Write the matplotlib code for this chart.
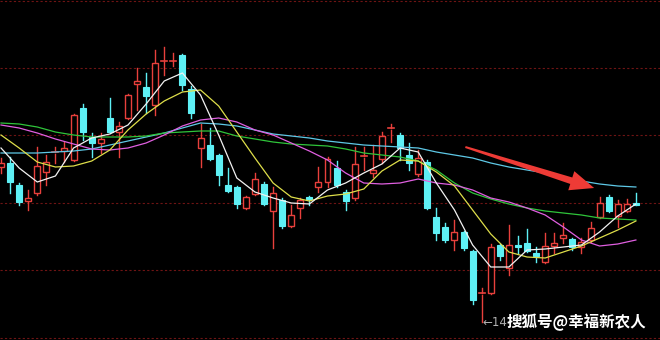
import numpy as np
import matplotlib
matplotlib.use('Agg')
import matplotlib.pyplot as plt
from matplotlib.patches import Rectangle, Polygon
from matplotlib.transforms import IdentityTransform

plt.rcParams['font.family'] = ['Noto Sans CJK SC', 'DejaVu Sans']

# daily k-line
opens = [20.32, 20.48, 19.60, 18.96, 19.28, 20.12, 20.84, 20.96, 20.60, 22.68,
         21.52, 21.28, 22.28, 21.72, 22.28, 23.64, 23.52, 22.80, 24.52, 24.52,
         24.80, 23.44, 21.08, 21.20, 20.80, 19.60, 19.52, 18.68, 19.24, 19.64,
         18.56, 19.00, 17.96, 18.68, 19.12, 19.52, 19.72, 20.28, 19.32, 19.08,
         20.68, 20.08, 20.64, 21.80, 21.60, 20.80, 20.04, 20.52, 18.32, 17.92,
         17.40, 17.72, 16.96, 15.20, 15.28, 17.20, 16.28, 17.20, 17.28, 16.88,
         16.52, 17.16, 17.48, 17.44, 17.12, 17.40, 18.32, 19.12, 18.36, 18.56,
         18.88]
highs = [20.68, 20.72, 19.68, 19.40, 21.12, 20.80, 21.12, 21.32, 22.44, 22.84,
         21.68, 21.68, 23.08, 22.12, 23.24, 24.28, 24.08, 25.00, 25.12, 24.88,
         24.84, 23.56, 22.04, 21.88, 20.84, 20.28, 19.56, 19.16, 20.08, 19.72,
         19.52, 19.08, 18.80, 19.08, 19.16, 20.32, 20.72, 20.56, 19.40, 21.12,
         21.12, 21.20, 21.72, 22.04, 21.68, 21.28, 21.00, 20.60, 18.68, 18.08,
         18.20, 17.76, 17.00, 15.48, 17.24, 17.24, 18.00, 17.56, 17.84, 17.12,
         17.68, 17.68, 18.08, 17.48, 17.48, 18.12, 19.12, 19.20, 19.00, 19.04,
         19.28]
lows = [20.08, 19.28, 18.80, 18.60, 19.20, 19.60, 20.48, 20.52, 20.56, 21.40,
        20.72, 20.88, 21.68, 20.72, 22.24, 22.60, 22.48, 22.40, 24.00, 24.36,
        23.40, 22.28, 20.32, 20.60, 19.60, 19.32, 18.68, 18.64, 19.20, 18.80,
        17.08, 17.88, 17.92, 18.28, 18.80, 19.32, 19.52, 19.52, 18.60, 19.00,
        20.20, 19.92, 20.48, 21.32, 20.60, 20.20, 19.96, 18.64, 17.40, 17.32,
        17.00, 17.00, 14.84, 14.12, 15.24, 16.60, 16.00, 16.88, 16.92, 16.52,
        16.48, 16.88, 17.28, 17.00, 16.88, 17.32, 18.28, 18.52, 17.92, 18.52,
        18.80]
closes = [20.48, 19.72, 18.92, 19.08, 20.36, 20.52, 20.92, 21.08, 22.40, 21.72,
          21.28, 21.44, 21.72, 21.96, 23.20, 23.76, 23.16, 24.48, 24.56, 24.56,
          23.60, 22.48, 21.48, 20.64, 20.00, 19.36, 18.84, 19.12, 19.84, 18.84,
          19.28, 17.96, 18.40, 19.00, 19.04, 19.72, 20.64, 19.60, 18.96, 20.44,
          20.76, 20.20, 21.56, 21.88, 21.08, 20.48, 20.68, 18.68, 17.68, 17.40,
          17.72, 17.08, 15.00, 15.28, 17.12, 16.76, 17.20, 17.12, 16.96, 16.76,
          17.16, 17.28, 17.60, 17.12, 17.32, 17.88, 18.88, 18.56, 18.84, 18.84,
          18.80]

# moving averages, sampled every second bar
ma_idx = list(range(0, 71, 2))
ma5 = [21.08, 20.28, 19.72, 19.96, 21.08, 21.48, 21.64, 22.00, 22.84, 23.76,
       24.08, 23.20, 21.60, 19.88, 19.32, 19.08, 18.88, 18.84, 19.40, 19.68,
       20.08, 20.44, 21.08, 20.92, 19.68, 18.60, 17.20, 16.32, 16.32, 17.00,
       17.04, 17.12, 17.20, 17.72, 18.36, 18.84]
ma10 = [21.60, 21.08, 20.52, 20.32, 20.36, 20.56, 21.00, 21.80, 22.44, 22.96,
        23.32, 23.40, 22.76, 21.72, 20.68, 19.68, 19.12, 18.96, 19.16, 19.24,
        19.44, 20.16, 20.60, 20.56, 20.12, 19.56, 18.60, 17.64, 16.92, 16.72,
        16.68, 16.92, 17.16, 17.48, 17.80, 18.16]
ma20 = [22.00, 21.88, 21.68, 21.44, 21.24, 21.04, 21.00, 21.08, 21.28, 21.60,
        21.96, 22.20, 22.28, 22.12, 21.80, 21.60, 21.28, 20.96, 20.60, 20.08,
        19.68, 19.64, 19.68, 19.84, 19.68, 19.60, 19.40, 19.08, 18.92, 18.68,
        18.40, 17.92, 17.40, 17.16, 17.24, 17.40]
ma30 = [22.08, 22.04, 21.92, 21.72, 21.60, 21.52, 21.52, 21.52, 21.56, 21.68,
        21.72, 21.76, 21.76, 21.56, 21.44, 21.32, 21.24, 21.20, 21.16, 21.04,
        20.88, 20.80, 20.72, 20.56, 20.20, 19.68, 19.28, 19.04, 18.84, 18.68,
        18.56, 18.48, 18.40, 18.28, 18.24, 18.20]
ma60 = [20.88, 20.88, 20.88, 20.92, 20.96, 21.04, 21.20, 21.36, 21.52, 21.68,
        21.88, 22.08, 22.04, 21.96, 21.80, 21.64, 21.56, 21.48, 21.36, 21.28,
        21.20, 21.16, 21.12, 21.08, 20.92, 20.80, 20.68, 20.48, 20.32, 20.20,
        20.08, 19.92, 19.76, 19.64, 19.56, 19.52]

grid_levels = [26.98, 24.3, 21.6, 18.9, 16.2, 13.5]
low_label = '←14'
watermark = '搜狐号@幸福新农人'

UP = '#e8403c'
DOWN = '#5ef0f5'

fig = plt.figure(figsize=(6.6, 3.4), dpi=100)
fig.patch.set_facecolor('black')
ax = fig.add_axes([0, 0, 1, 1])
ax.set_facecolor('black')
ax.set_xlim(-0.11, 72.66)
ax.set_ylim(13.4, 27.0)
ax.axis('off')

for g in grid_levels:
    ax.axhline(g, color='#6e1414', lw=0.8, ls=(0, (2, 2)), zorder=1)

w = 0.66
for i in range(len(opens)):
    o, h, l, c = opens[i], highs[i], lows[i], closes[i]
    top, bot = max(o, c), min(o, c)
    if c >= o:
        # 阳线: hollow red
        ax.plot([i, i], [top, h], color=UP, lw=1, zorder=3)
        ax.plot([i, i], [l, bot], color=UP, lw=1, zorder=3)
        if top - bot < 0.1:
            ax.plot([i - w / 2, i + w / 2], [c, c], color=UP, lw=1.2, zorder=3)
        else:
            ax.add_patch(Rectangle((i - w / 2, bot), w, top - bot, facecolor='black',
                                   edgecolor=UP, lw=1, zorder=3))
    else:
        ax.plot([i, i], [l, h], color=DOWN, lw=1, zorder=3)
        ax.add_patch(Rectangle((i - w / 2, bot), w, max(top - bot, 0.06), facecolor=DOWN,
                               edgecolor=DOWN, lw=0.8, zorder=3))

ax.plot(ma_idx, ma60, color='#5ec8e6', lw=0.9, zorder=4)
ax.plot(ma_idx, ma30, color='#2fc43a', lw=0.9, zorder=4)
ax.plot(ma_idx, ma20, color='#e05fe0', lw=0.9, zorder=4)
ax.plot(ma_idx, ma10, color='#dede4a', lw=0.9, zorder=4)
ax.plot(ma_idx, ma5, color='#f2f2f2', lw=0.9, zorder=4)

# red arrow, tapered shaft (built in pixels from two data points)
p0 = ax.transData.transform((51.2, 21.12))
p1 = ax.transData.transform((65.4, 19.48))
u = (p1 - p0) / np.hypot(*(p1 - p0))
n = np.array([-u[1], u[0]])
base = p1 - 24 * u
pts = [p0 + 1.0 * n, base + 3.4 * n, base + 10 * n, p1,
       base - 10 * n, base - 3.4 * n, p0 - 1.0 * n]
ax.add_patch(Polygon(pts, closed=True, facecolor='#ee3b36', edgecolor='none',
                     transform=IdentityTransform(), zorder=6))

lo_i = int(np.argmin(lows))
ax.text(lo_i + 0.1, lows[lo_i], low_label, color='#b0b0b0', fontsize=8.5,
        family=['DejaVu Sans'], va='center', ha='left', zorder=5)
ax.text(0.767, 0.052, watermark, transform=ax.transAxes, color='white', fontsize=11.2,
        fontweight='bold', va='center', ha='left', zorder=7)

fig.savefig('out.png', dpi=100, facecolor='black')
